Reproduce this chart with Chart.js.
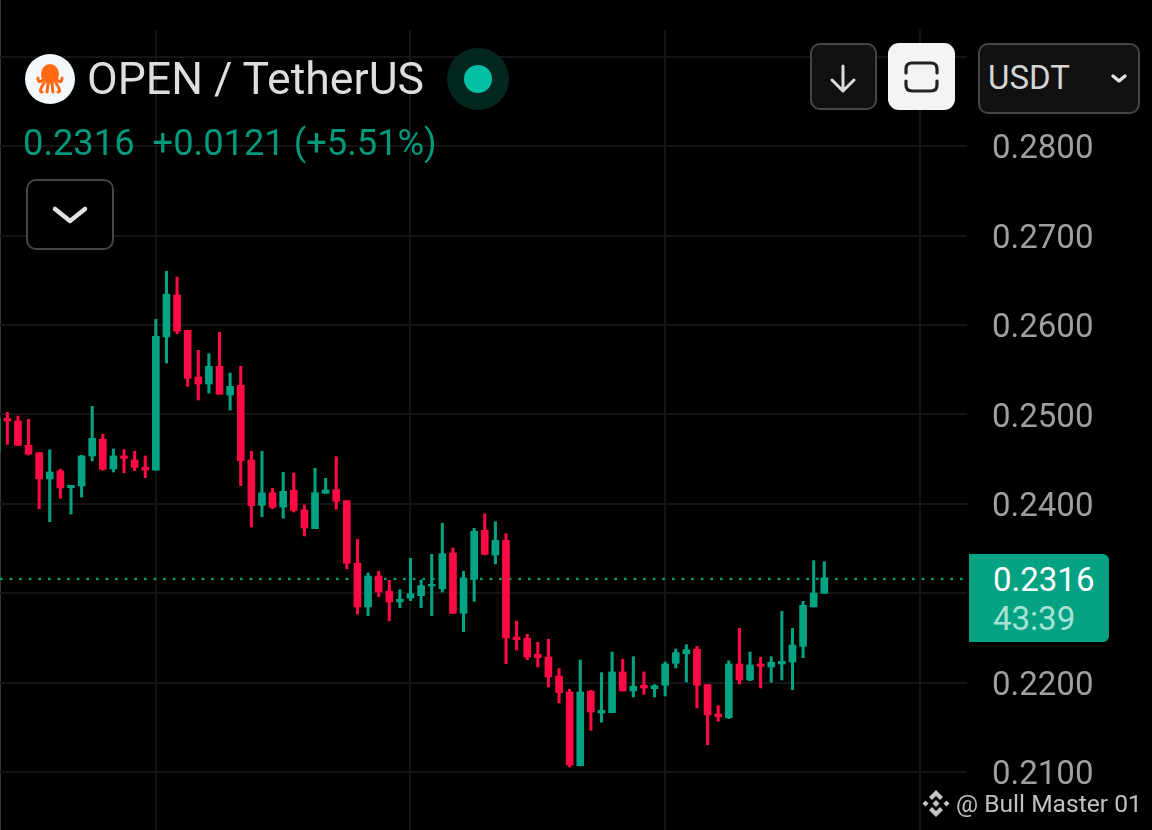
<!DOCTYPE html>
<html>
<head>
<meta charset="utf-8">
<title>OPEN / TetherUS</title>
<script src="https://cdn.jsdelivr.net/npm/chart.js@4"></script>
<style>
  html, body { margin: 0; padding: 0; background: #000; }
  body { width: 1152px; height: 830px; overflow: hidden; position: relative; font-family: Roboto, sans-serif; }
  canvas { position: absolute; left: 0; top: 0; }
  .edge { position: absolute; left: 0; top: 0; width: 1px; height: 830px; background: #333; }
  .abs { position: absolute; white-space: nowrap; }
  .btn { position: absolute; box-sizing: border-box; border: 2px solid #454545; border-radius: 10px; background: #111; }
  svg { position: absolute; overflow: visible; }
</style>
</head>
<body>
<div class="edge"></div>
<canvas id="chart" width="1152" height="830"></canvas>

<!-- logo -->
<svg style="left:0;top:0" width="110" height="110">
  <circle cx="50" cy="79" r="25" fill="#f4f8fb"/>
  <g fill="#ff6a13" stroke="#ff6a13">
    <ellipse cx="50" cy="74" rx="9" ry="10" stroke="none"/>
    <g fill="none" stroke-width="3" stroke-linecap="round">
      <path d="M43 80 Q38 84 38 78"/><path d="M57 80 Q62 84 62 78"/>
      <path d="M44 83 Q38 92 42 92"/><path d="M56 83 Q62 92 58 92"/>
      <path d="M48 84 L47 92"/><path d="M52 84 L53 92"/>
    </g>
  </g>
</svg>
<div class="abs" style="left:87px;top:53px;font-size:44.6px;line-height:52px;color:#dedede">OPEN / TetherUS</div>
<svg style="left:440px;top:40px" width="80" height="80">
  <circle cx="38" cy="39" r="31" fill="#03261f"/>
  <circle cx="38" cy="39" r="14" fill="#02bfa5"/>
</svg>
<div class="abs" style="left:23px;top:122px;font-size:36.3px;line-height:42px;color:#02997c;white-space:pre">0.2316  +0.0121 (+5.51%)</div>

<div class="btn" style="left:26px;top:179px;width:88px;height:71px;background:#000"></div>
<svg style="left:26px;top:179px" width="88" height="71">
  <path d="M29 30 L44 42 L59 30" fill="none" stroke="#e2e2e2" stroke-width="4.5" stroke-linecap="round" stroke-linejoin="round"/>
</svg>

<div class="btn" style="left:810px;top:43px;width:67px;height:67px"></div>
<svg style="left:810px;top:43px" width="67" height="67">
  <path d="M33 23 L33 47 M22 37 L33 48 L44 37" fill="none" stroke="#dcdcdc" stroke-width="3" stroke-linecap="round" stroke-linejoin="round"/>
</svg>
<div class="abs" style="left:888px;top:43px;width:67px;height:67px;border-radius:11px;background:#f4f4f4"></div>
<svg style="left:888px;top:43px" width="67" height="67">
  <path d="M18 30 L18 26 Q18 20 24 20 L43 20 Q49 20 49 26 L49 30 M18 38 L18 42 Q18 48 24 48 L43 48 Q49 48 49 42 L49 38" fill="none" stroke="#222" stroke-width="3.2" stroke-linecap="round"/>
</svg>
<div class="btn" style="left:978px;top:43px;width:162px;height:71px"></div>
<div class="abs" style="left:988px;top:58px;font-size:33px;line-height:40px;color:#d4d4d4">USDT</div>
<svg style="left:1100px;top:60px" width="40" height="40">
  <path d="M13 16 L19 21 L25 16" fill="none" stroke="#e2e2e2" stroke-width="3.4" stroke-linecap="round" stroke-linejoin="round"/>
</svg>

<!-- current price tag -->
<div class="abs" style="left:969px;top:554px;width:140px;height:88px;background:#03a283;border-radius:0 6px 6px 0"></div>
<div class="abs" style="left:993px;top:560px;font-size:33px;line-height:40px;color:#fff">0.2316</div>
<div class="abs" style="left:993px;top:599px;font-size:33px;line-height:40px;color:#a6e3d5">43:39</div>

<!-- watermark -->
<svg style="left:922px;top:790px" width="30" height="30">
  <g fill="#c4c4c4">
    <path d="M14 0 L21 7 L18 10 L14 6 L10 10 L7 7 Z"/>
    <path d="M14 27 L21 20 L18 17 L14 21 L10 17 L7 20 Z"/>
    <path d="M14 10 L17.5 13.5 L14 17 L10.5 13.5 Z"/>
    <path d="M3.5 10.5 L6.5 13.5 L3.5 16.5 L0.5 13.5 Z"/>
    <path d="M24.5 10.5 L27.5 13.5 L24.5 16.5 L21.5 13.5 Z"/>
  </g>
</svg>
<div class="abs" style="left:956px;top:789px;font-size:24.6px;line-height:30px;color:#c0c0c0">@ Bull Master 01</div>

<script>
// OHLC, one position per candle
const opens = [
  .24572,.24956,.24926,.24654,.24572,.24278,.24367,.2418,.24199,.24535,
  .24722,.24389,.24535,.2449,.24408,.24375,.25866,.26336,.25941,.25418,
  .2534,.25538,.25217,.25326,.2449,.23983,.24124,.23964,.24151,.23931,
  .23722,.24117,.24158,.24035,.23335,.22846,.23192,.23021,.22902,.22946,
  .22972,.23081,.2305,.2345,.22775,.23156,.23704,.23427,.23592,.2251,
  .22496,.22317,.22286,.22074,.21895,.2107,.21903,.2166,.21663,.22119,
  .21906,.2197,.21932,.2197,.22216,.22323,.22373,.21977,.21649,.21607,
  .22208,.22029,.22208,.22175,.22208,.2223,.22406,.22846,.22999
];
const highs = [
  .24952,.25024,.24982,.24945,.24572,.24605,.24386,.24207,.24543,.25091,
  .24778,.24613,.24605,.24587,.24535,.26064,.26601,.26537,.25941,.25717,
  .25679,.25918,.25463,.25538,.24587,.24587,.24173,.24352,.24345,.23987,
  .24397,.24285,.24527,.24035,.23603,.23226,.23245,.23144,.23039,.2339,
  .23148,.23435,.23782,.23506,.23245,.23726,.23889,.238,.23666,.22689,
  .2254,.22451,.22484,.22156,.21925,.22253,.21914,.22111,.22342,.22261,
  .2229,.22119,.21977,.2223,.22376,.22424,.22406,.21977,.21742,.22245,
  .22607,.22342,.22283,.2229,.22798,.22607,.22909,.23364,.23352
];
const lows = [
  .24572,.24666,.24654,.24546,.23945,.238,.24062,.23886,.24076,.24479,
  .24375,.24356,.24345,.2437,.24292,.24375,.25575,.25903,.25314,.25161,
  .25239,.25225,.25049,.24203,.23741,.23856,.23945,.23838,.23908,.2364,
  .23722,.24117,.23939,.23274,.22767,.22748,.22961,.22692,.22838,.22916,
  .22838,.22748,.23013,.22775,.22569,.22909,.23427,.23327,.22211,.22365,
  .22256,.22175,.21951,.21772,.21056,.21068,.21466,.21556,.21663,.21906,
  .21839,.21869,.21839,.2185,.22163,.22007,.21716,.21305,.21567,.21596,
  .21984,.22021,.2194,.22003,.22029,.21921,.22279,.22846,.22999
];
const closes = [
  .24952,.24926,.24654,.24557,.24278,.24356,.24177,.24207,.24535,.24733,
  .24386,.24535,.24509,.24408,.24378,.25874,.26344,.2593,.25404,.2534,
  .25538,.25225,.25314,.24482,.23979,.24121,.23961,.2414,.23927,.23729,
  .24124,.24155,.24028,.23335,.22846,.23192,.23013,.22902,.22932,.22994,
  .23084,.231,.23442,.22775,.2317,.23692,.23435,.23592,.22499,.2248,
  .22286,.22279,.22063,.21887,.21078,.21895,.21671,.2169,.22119,.21906,
  .21959,.2194,.21965,.22208,.22335,.22368,.2197,.21638,.21619,.22208,
  .22029,.22197,.22182,.22227,.22238,.22421,.22865,.23002,.23173
];
const priceTicks = [0.21, 0.22, 0.23, 0.24, 0.25, 0.26, 0.27, 0.28, 0.29];
const hiddenLabels = [0.23, 0.29]; // covered by the price tag and the USDT box
const timeTicks = [15, 39, 63, 87];
const lastPrice = 0.2316;

const UP = '#02a383';
const DOWN = '#ff0a45';

const xMin = 0.311;
const xMax = 91.45;
const colors = opens.map((o, i) => closes[i] >= o ? UP : DOWN);

new Chart(document.getElementById('chart').getContext('2d'), {
  data: {
    datasets: [
      {
        type: 'line',
        data: [{ x: xMin, y: lastPrice }, { x: xMax, y: lastPrice }],
        borderColor: UP,
        borderWidth: 2.4,
        borderDash: [2.6, 7],
        pointRadius: 0,
        order: 3,
      },
      {
        type: 'bar', // wicks
        data: opens.map((_, i) => ({ x: i, y: [lows[i], highs[i]] })),
        backgroundColor: colors,
        barThickness: 2.4,
        grouped: false,
        order: 2,
      },
      {
        type: 'bar', // bodies
        data: opens.map((o, i) => ({ x: i, y: [o, closes[i]] })),
        backgroundColor: colors,
        barThickness: 7,
        grouped: false,
        order: 1,
      },
    ],
  },
  options: {
    responsive: false,
    animation: false,
    layout: { padding: { top: 30, left: 0, right: 0, bottom: 0 } },
    plugins: { legend: { display: false }, tooltip: { enabled: false } },
    scales: {
      x: {
        type: 'linear',
        min: xMin,
        max: xMax,
        offset: false,
        afterBuildTicks: s => { s.ticks = timeTicks.map(value => ({ value })); },
        afterFit: s => { s.height = 0; s.paddingLeft = 0; s.paddingRight = 0; },
        grid: { color: '#141414', lineWidth: 2, drawTicks: false, offset: false },
        border: { display: false },
        ticks: { display: false },
      },
      y: {
        position: 'right',
        min: 0.20351,
        max: 0.293,
        afterBuildTicks: s => { s.ticks = priceTicks.map(value => ({ value })); },
        afterFit: s => { s.width = 185; s.paddingTop = 0; s.paddingBottom = 0; },
        grid: { color: '#141414', lineWidth: 2, drawTicks: false },
        border: { display: false },
        ticks: {
          color: '#9f9f9f',
          padding: 25,
          labelOffset: 4,
          font: { family: 'Roboto', size: 33 },
          callback: v => hiddenLabels.includes(v) ? '' : v.toFixed(4),
        },
      },
    },
  },
});
</script>
</body>
</html>
